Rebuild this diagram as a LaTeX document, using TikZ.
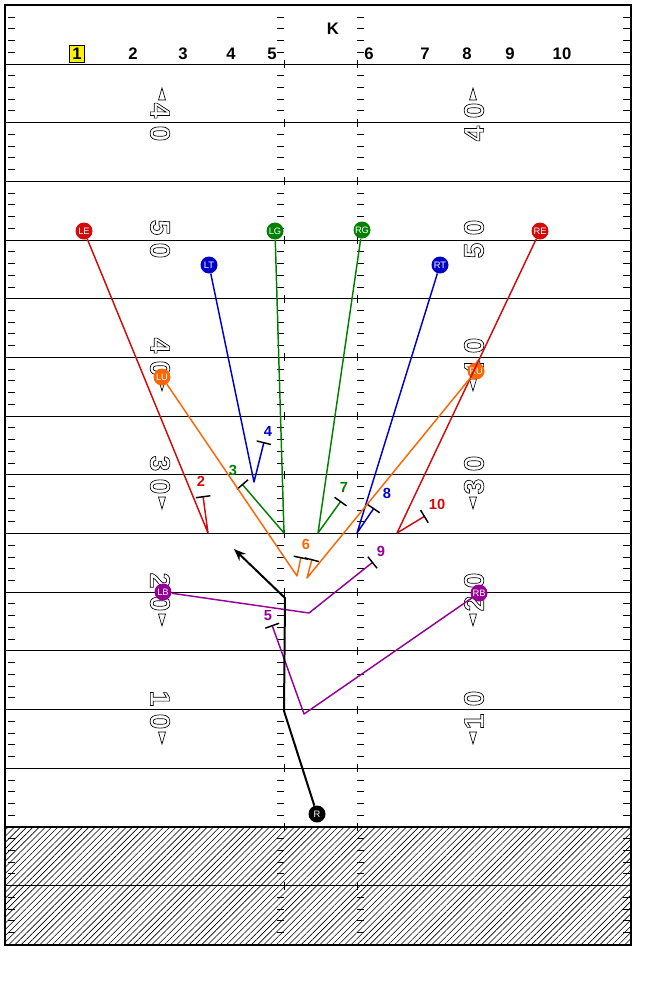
\documentclass[tikz,border=0pt]{standalone}
\usepackage{fontspec}
\setsansfont{Liberation Sans}
\usepackage{tikz}
\usetikzlibrary{arrows.meta, patterns.meta}

\definecolor{lineRed}{RGB}{210,10,10}
\definecolor{lineBlue}{RGB}{0,0,200}
\definecolor{lineGreen}{RGB}{0,128,0}
\definecolor{lineOrange}{RGB}{255,102,0}
\definecolor{linePurple}{RGB}{150,0,150}

% hollow digits for the yard numbers
\newcommand{\hollow}[1]{\special{pdf:literal direct 1 Tr}#1\special{pdf:literal direct 0 Tr}}

\tikzset{
  player/.style={circle, inner sep=0pt, minimum size=12.75pt, text=white,
                 font=\sffamily\fontsize{7}{7}\selectfont},
  route/.style={line width=1.1pt, line join=round},
  block/.style={-{Bar[black, width=11pt, line width=1.1pt]}},
  lbl/.style={font=\sffamily\bfseries\fontsize{11}{11}\selectfont, inner sep=0pt},
  topnum/.style={font=\sffamily\bfseries\fontsize{12.5}{12.5}\selectfont, inner sep=0pt},
  yardL/.style={font=\sffamily\bfseries\fontsize{21}{21}\selectfont, inner sep=0pt, rotate=-90},
  yardR/.style={font=\sffamily\bfseries\fontsize{21}{21}\selectfont, inner sep=0pt, rotate=90}
}

\begin{document}
\begin{tikzpicture}[x=0.75pt, y=-0.75pt]
\useasboundingbox (0,0) rectangle (670,997);

% end zone
\fill[pattern={Lines[angle=45, distance=3.3pt, line width=0.45pt]}] (5,827) rectangle (631,945);

% yard lines and hash marks
\foreach \i in {0,...,14} {
  \pgfmathsetmacro\yy{64+58.69*\i}
  \draw[line width=0.75pt] (5,\yy) -- (631,\yy);
  \draw[line width=0.6pt] (284,\yy-4) -- (284,\yy+4) (357,\yy-4) -- (357,\yy+4);
}
\foreach \k in {-4,...,75} {
  \pgfmathtruncatemacro\m{mod(\k,5)}
  \ifnum\m=0\else
    \pgfmathsetmacro\yy{64+11.738*\k}
    \draw[line width=0.75pt] (8,\yy) -- (15,\yy) (277,\yy) -- (284,\yy)
                             (357,\yy) -- (364,\yy) (623,\yy) -- (630,\yy);
  \fi
}
\draw[line width=2.2pt] (5,827) -- (631,827);
\draw[line width=0.9pt] (5,5) rectangle (631,945);

% yard numbers
\begin{scope}[line width=0.5pt]
\foreach \yy/\a [count=\j] in {122/4, 239/5, 357/4, 475/3, 592/2, 710/1} {
  \node[yardL] (yl\j a) at (160,\yy-11.5) {\hollow{\a}};
  \node[yardL] (yl\j b) at (160,\yy+11.5) {\hollow{0}};
  \node[yardR] (yr\j a) at (474,\yy-11.5) {\hollow{0}};
  \node[yardR] (yr\j b) at (474,\yy+11.5) {\hollow{\a}};
}
\foreach \yy in {357,475,592,710} {
  \draw (158.5,\yy+22) -- (165.5,\yy+22) -- (162,\yy+34) -- cycle;
  \draw (469.5,\yy+22) -- (476.5,\yy+22) -- (473,\yy+34) -- cycle;
}
\draw (158.5,100) -- (165.5,100) -- (162,88) -- cycle;
\draw (469.5,100) -- (476.5,100) -- (473,88) -- cycle;
\end{scope}

% top row
\node[topnum] (K) at (333,29) {K};
\node[topnum, fill=yellow, draw=black, line width=0.75pt, inner sep=2pt] (n1) at (77,54) {1};
\node[topnum] (n2) at (133,54) {2};
\node[topnum] (n3) at (183,54) {3};
\node[topnum] (n4) at (231,54) {4};
\node[topnum] (n5) at (272,54) {5};
\node[topnum] (n6) at (369,54) {6};
\node[topnum] (n7) at (425,54) {7};
\node[topnum] (n8) at (467,54) {8};
\node[topnum] (n9) at (510,54) {9};
\node[topnum] (n10) at (562,54) {10};

% players
\node[player, fill=lineRed] (LE) at (84,231) {LE};
\node[player, fill=lineGreen] (LG) at (275,231) {LG};
\node[player, fill=lineGreen] (RG) at (362,230) {RG};
\node[player, fill=lineRed] (RE) at (540,231) {RE};
\node[player, fill=lineBlue] (LT) at (209,265) {LT};
\node[player, fill=lineBlue] (RT) at (440,265) {RT};
\node[player, fill=lineOrange] (LU) at (162,377) {LU};
\node[player, fill=lineOrange] (RU) at (476,371) {RU};
\node[player, fill=linePurple] (LB) at (163,592) {LB};
\node[player, fill=linePurple] (RB) at (479,593) {RB};
\node[player, fill=black] (R) at (317,814) {R};

% route points
\coordinate (le1) at (208,533);  \coordinate (le2) at (203,496);
\coordinate (lt1) at (254,482);  \coordinate (lt2) at (264,442);
\coordinate (lg1) at (284,533);  \coordinate (lg2) at (242,484);
\coordinate (rg1) at (318,533);  \coordinate (rg2) at (341,501);
\coordinate (rt1) at (357,533);  \coordinate (rt2) at (374,508);
\coordinate (re1) at (397,533);  \coordinate (re2) at (425,516);
\coordinate (lu1) at (297,576);  \coordinate (lu2) at (301,557);
\coordinate (ru1) at (307,578);  \coordinate (ru2) at (312,559);
\coordinate (lb1) at (309,613);  \coordinate (lb2) at (373,562);
\coordinate (rb1) at (304,714);  \coordinate (rb2) at (272,625);
\coordinate (r1) at (284,711);   \coordinate (r2) at (285,598);
\coordinate (r3) at (234,549);

% routes
\draw[route, block, lineRed] (LE) -- (le1) -- (le2);
\draw[route, block, lineBlue] (LT) -- (lt1) -- (lt2);
\draw[route, block, lineGreen] (LG) -- (lg1) -- (lg2);
\draw[route, block, lineGreen] (RG) -- (rg1) -- (rg2);
\draw[route, block, lineBlue] (RT) -- (rt1) -- (rt2);
\draw[route, block, lineRed] (RE) -- (re1) -- (re2);
\draw[route, block, lineOrange] (LU) -- (lu1) -- (lu2);
\draw[route, block, lineOrange] (RU) -- (ru1) -- (ru2);
\draw[route, block, linePurple] (LB) -- (lb1) -- (lb2);
\draw[route, block, linePurple] (RB) -- (rb1) -- (rb2);
\draw[route, line width=1.5pt, -{Stealth[length=9pt, width=7pt]}] (R) -- (r1) -- (r2) -- (r3);

% route numbers
\node[lbl, text=lineRed] (t2) at (201,481) {2};
\node[lbl, text=lineGreen] (t3) at (233,470) {3};
\node[lbl, text=lineBlue] (t4) at (268,431) {4};
\node[lbl, text=linePurple] (t5) at (268,616) {5};
\node[lbl, text=lineOrange] (t6) at (306,544) {6};
\node[lbl, text=lineGreen] (t7) at (344,487) {7};
\node[lbl, text=lineBlue] (t8) at (387,493) {8};
\node[lbl, text=linePurple] (t9) at (381,551) {9};
\node[lbl, text=lineRed] (t10) at (437,504) {10};
\end{tikzpicture}
\end{document}
